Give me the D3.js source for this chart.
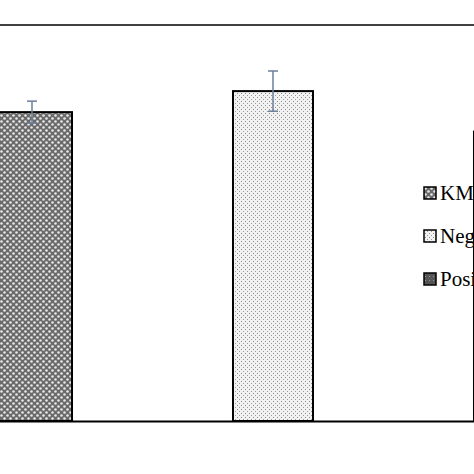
<!DOCTYPE html>
<html><head><meta charset="utf-8">
<script src="https://cdn.jsdelivr.net/npm/d3@7"></script>
<style>body{margin:0;background:#fff}svg{display:block}</style>
</head><body>
<svg id="chart"></svg>
<script>
const categories = ['KMs', 'Negative control', 'Positive control'];
const values = [1.014, 1.083, 0.95];
const errors = [0.036, 0.066, 0.04];
const legendLabels = ['KMs', 'Negative control', 'Positive control'];

const W = 474, H = 474;
const svg = d3.select('#chart').attr('width', W).attr('height', H);
const defs = svg.append('defs');

// patterns
const p1 = defs.append('pattern').attr('id', 'pat0').attr('patternUnits', 'userSpaceOnUse').attr('width', 6).attr('height', 6);
p1.append('rect').attr('width', 6).attr('height', 6).attr('fill', '#6a6a6a');
p1.append('circle').attr('cx', 1.5).attr('cy', 1.5).attr('r', 1.3).attr('fill', '#e8e8e8');
p1.append('circle').attr('cx', 4.5).attr('cy', 4.5).attr('r', 1.3).attr('fill', '#e8e8e8');
const p2 = defs.append('pattern').attr('id', 'pat1').attr('patternUnits', 'userSpaceOnUse').attr('width', 4).attr('height', 4);
p2.append('rect').attr('width', 4).attr('height', 4).attr('fill', '#f2f2f2');
p2.append('rect').attr('x', 1).attr('y', 1).attr('width', 1).attr('height', 1).attr('fill', '#888');
p2.append('rect').attr('x', 3).attr('y', 3).attr('width', 1).attr('height', 1).attr('fill', '#999');
const p3 = defs.append('pattern').attr('id', 'pat2').attr('patternUnits', 'userSpaceOnUse').attr('width', 4).attr('height', 4);
p3.append('rect').attr('width', 4).attr('height', 4).attr('fill', '#555');
p3.append('rect').attr('x', 1).attr('y', 1).attr('width', 1).attr('height', 1).attr('fill', '#999');

const plotTop = 25, base = 421;
const y = d3.scaleLinear().domain([0, 1.3]).range([base, plotTop]);
const x = d3.scaleBand().domain(categories).range([-128.5, 674.5]).paddingInner(0.668).paddingOuter(0.5);

// frame line
svg.append('line').attr('x1', 0).attr('x2', W).attr('y1', plotTop).attr('y2', plotTop).attr('stroke', '#000').attr('stroke-width', 1.5);

svg.selectAll('.bar').data(categories).enter().append('rect')
  .attr('x', d => x(d)).attr('width', x.bandwidth())
  .attr('y', (d, i) => y(values[i])).attr('height', (d, i) => base - y(values[i]))
  .attr('fill', (d, i) => `url(#pat${i})`).attr('stroke', '#000').attr('stroke-width', 2);

const eb = svg.selectAll('.err').data(categories).enter().append('g').attr('stroke', '#6b7f99').attr('stroke-width', 1.5);
eb.append('line').attr('x1', d => x(d) + x.bandwidth() / 2).attr('x2', d => x(d) + x.bandwidth() / 2)
  .attr('y1', (d, i) => y(values[i] + errors[i])).attr('y2', (d, i) => y(values[i] - errors[i]));
[1, -1].forEach(s => eb.append('line')
  .attr('x1', d => x(d) + x.bandwidth() / 2 - 5).attr('x2', d => x(d) + x.bandwidth() / 2 + 5)
  .attr('y1', (d, i) => y(values[i] + s * errors[i]))
  .attr('y2', (d, i) => y(values[i] + s * errors[i])));

svg.append('g').attr('transform', `translate(0,${base})`)
  .call(d3.axisBottom(x).tickValues([]).tickSizeOuter(0))
  .select('.domain').attr('stroke-width', 2);

const lg = svg.selectAll('.lg').data(legendLabels).enter().append('g')
  .attr('transform', (d, i) => `translate(424,${193 + i * 43})`);
lg.append('rect').attr('x', 0).attr('y', -6).attr('width', 12).attr('height', 12)
  .attr('fill', (d, i) => `url(#pat${i})`).attr('stroke', '#000').attr('stroke-width', 1.5);
lg.append('text').attr('x', 16).attr('dy', '0.35em').attr('font-family', 'Liberation Serif')
  .attr('font-size', 21).text(d => d);
</script>
</body></html>
